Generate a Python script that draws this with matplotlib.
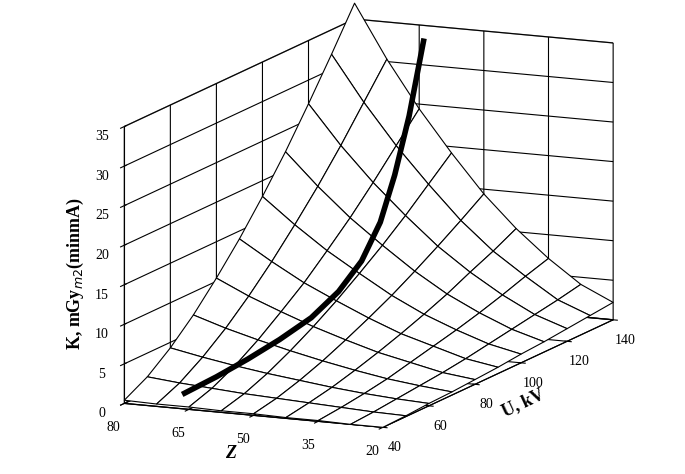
import numpy as np
import matplotlib
matplotlib.use("Agg")
import matplotlib.pyplot as plt

Z_vals = [80, 72.5, 65, 57.5, 50, 42.5, 35, 27.5, 20]
U_vals = [40, 50, 60, 70, 80, 90, 100, 110, 120, 130, 140]
K_table = [
    [0.4, 0.3, 0.3, 0.2, 0.2, 0.1, 0.1, 0.0, 0.0],
    [2.0, 1.6, 1.3, 1.0, 0.8, 0.6, 0.4, 0.2, 0.1],
    [4.3, 3.5, 2.8, 2.2, 1.7, 1.2, 0.8, 0.5, 0.3],
    [7.1, 5.8, 4.7, 3.7, 2.8, 2.0, 1.3, 0.8, 0.4],
    [10.4, 8.5, 6.9, 5.4, 4.1, 2.9, 2.0, 1.1, 0.6],
    [14.0, 11.5, 9.2, 7.3, 5.5, 3.9, 2.7, 1.5, 0.8],
    [18.0, 14.8, 11.9, 9.4, 7.0, 5.0, 3.4, 2.0, 1.1],
    [22.3, 18.3, 14.7, 11.6, 8.7, 6.2, 4.2, 2.5, 1.3],
    [27.0, 22.1, 17.8, 14.0, 10.5, 7.6, 5.1, 3.0, 1.6],
    [31.9, 26.2, 21.1, 16.6, 12.4, 8.9, 6.1, 3.5, 1.9],
    [37.0, 30.3, 24.4, 19.2, 14.4, 10.4, 7.0, 4.1, 2.2],
]
curve_U = [40, 50, 60, 70, 80, 90, 100, 110, 120, 130, 140]
curve_Z = [66, 64, 62, 60, 58, 57, 57, 58, 60, 62, 64]
curve_K = [2, 2.8, 3.8, 5, 6.5, 8.5, 11, 14.5, 19, 25, 33]
Z_ticks = [80, 65, 50, 35, 20]
U_ticks = [40, 60, 80, 100, 120, 140]
K_ticks = [0, 5, 10, 15, 20, 25, 30, 35]

plt.rcParams['font.family'] = ['Liberation Serif', 'DejaVu Serif']
fig = plt.figure(figsize=(6.85, 4.74), dpi=100)
ax = fig.add_axes([-0.2, -0.2, 1.45, 1.42], projection='3d')
ax.set_proj_type('ortho')
ax.set_box_aspect((1.0, 2.0, 1.0))
Zg, Ug = np.meshgrid(Z_vals, U_vals)
K = np.array(K_table)
ax.plot_surface(Zg, Ug, K, color='white', edgecolor='black', linewidth=0.8, shade=False, alpha=1)
ax.plot(curve_Z, curve_U, curve_K, color='black', linewidth=4, zorder=10)
ax.set_xlim(80, 20)
ax.set_ylim(40, 140)
ax.set_zlim(0, 35)
ax.set_xticks(Z_ticks)
ax.set_yticks(U_ticks)
ax.set_zticks(K_ticks)
for a in (ax.xaxis, ax.yaxis, ax.zaxis):
    a.pane.set_facecolor('white')
    a.pane.set_edgecolor('black')
    a._axinfo['grid']['color'] = 'black'
    a._axinfo['grid']['linewidth'] = 0.8
ax.zaxis.set_ticks_position('lower')
ax.zaxis.set_label_position('lower')
ax.set_xlabel('Z', fontsize=13, fontweight='bold', style='italic')
ax.set_ylabel('U, kV', fontsize=13, fontweight='bold')
ax.set_zlabel('K, mGy$_{m2}$(minmA)', fontsize=13, fontweight='bold')
ax.tick_params(labelsize=10)
ax.view_init(elev=12, azim=-66)
fig.savefig('out.png', dpi=100)
